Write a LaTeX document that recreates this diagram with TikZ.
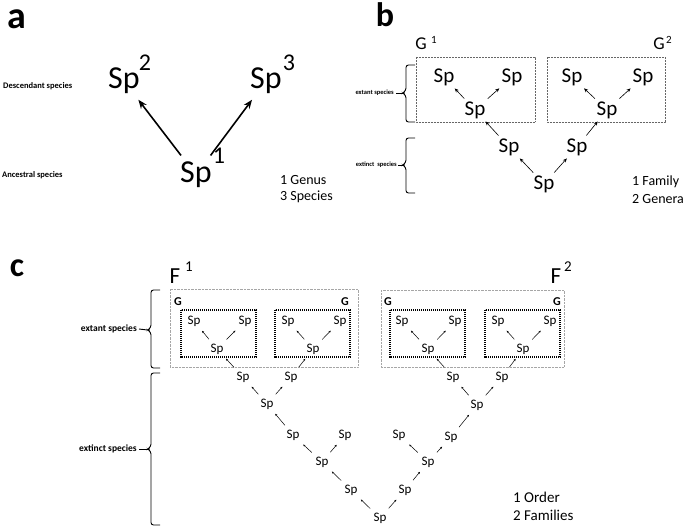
\documentclass[tikz,border=0pt]{standalone}
\usepackage{fontspec}
\setmainfont{Carlito}
\usetikzlibrary{arrows.meta}
\newcommand{\mybrk}[5]{%
  \draw[brk] (#2+9,#3) -- (#2,#3) -- (#2,#5-2.5) -- (#2-3.5,#5) -- (#2,#5+2.5) -- (#2,#4) -- (#2+9,#4);
  \coordinate (#1) at (#2-3.5,#5);}
\begin{document}
\begin{tikzpicture}[x=1pt,y=-1pt,
  fs/.style={font=\fontsize{#1}{#1}\selectfont},
  bfs/.style={font=\bfseries\fontsize{#1}{#1}\selectfont},
  spA/.style={fs=32, inner sep=4pt},
  supA/.style={fs=24, inner sep=0pt},
  spB/.style={fs=21, inner sep=2pt},
  spC/.style={fs=13, inner sep=2pt},
  arrA/.style={line width=1.6pt, -{Stealth[length=9pt,width=7pt]}, shorten <=3pt, shorten >=2pt},
  arrB/.style={line width=0.6pt, -{Stealth[length=4pt,width=3.5pt]}, shorten <=1pt, shorten >=1pt},
  arrC/.style={line width=0.5pt, -{Stealth[length=2.2pt,width=2pt]}, shorten <=3pt, shorten >=3pt},
  boxB/.style={draw=black!60, line width=0.7pt, dash pattern=on 0.6pt off 0.9pt},
  boxCo/.style={draw=black!35, line width=0.55pt, dash pattern=on 0.5pt off 0.9pt},
  boxCi/.style={draw=black, line width=1.2pt, dash pattern=on 1.1pt off 0.9pt},
  brk/.style={draw=black, line width=0.9pt, rounded corners=2.5pt},
  lead/.style={draw=black, line width=0.9pt},
]
\useasboundingbox (0,0) rectangle (685,527);
% ---------------- panel a
\node[bfs=38, inner sep=0] (la) at (17,19) {a};
\node[bfs=8.5, inner sep=0, anchor=west] (desc) at (3,86) {Descendant species};
\node[bfs=8.5, inner sep=0, anchor=west] (anc) at (2,175) {Ancestral species};
\node[spA] (a1) at (196,175) {Sp};
\node[supA] (a1s) at (219,156) {1};
\node[spA] (a2) at (124,81) {Sp};
\node[supA] (a2s) at (145,63) {2};
\node[spA] (a3) at (266,81) {Sp};
\node[supA] (a3s) at (289,63) {3};
\draw[arrA] (a1) -- (a2);
\draw[arrA] (a1) -- (a3);
\node[fs=14, inner sep=0, anchor=west] (gen) at (280,180) {1 Genus};
\node[fs=14, inner sep=0, anchor=west] (spc) at (280,197) {3 Species};
% ---------------- panel b
\node[bfs=34, inner sep=0] (lb) at (385,15) {b};
\node[fs=18, inner sep=0] (g1) at (421,44) {G};
\node[fs=11, inner sep=0] (g1s) at (434,40) {1};
\node[fs=18, inner sep=0] (g2) at (659,44) {G};
\node[fs=11, inner sep=0] (g2s) at (669,40) {2};
\draw[boxB] (416,57) rectangle (535,122);
\draw[boxB] (547,57) rectangle (665,122);
\node[spB] (b1l) at (444,77) {Sp};
\node[spB] (b1r) at (512,77) {Sp};
\node[spB] (b1b) at (475,110) {Sp};
\node[spB] (b2l) at (572,77) {Sp};
\node[spB] (b2r) at (643,77) {Sp};
\node[spB] (b2b) at (607,110) {Sp};
\node[spB] (bel) at (509,147) {Sp};
\node[spB] (ber) at (577,147) {Sp};
\node[spB] (bro) at (544,184) {Sp};
\draw[arrB] (b1b) -- (b1l);
\draw[arrB] (b1b) -- (b1r);
\draw[arrB] (b2b) -- (b2l);
\draw[arrB] (b2b) -- (b2r);
\draw[arrB] (bel) -- (b1b);
\draw[arrB] (ber) -- (b2b);
\draw[arrB] (bro) -- (bel);
\draw[arrB] (bro) -- (ber);
\node[bfs=6.5, inner sep=0, anchor=east] (bext) at (394,93) {extant species};
\node[bfs=6.5, inner sep=0, anchor=east] (binc) at (397,165) {extinct\ \ species};
\mybrk{bt1}{406}{65}{122}{93}
\mybrk{bt2}{406}{138}{193}{165}
\draw[lead] ([xshift=2pt]bext.east) -- (bt1);
\draw[lead] ([xshift=1pt]binc.east) -- (bt2);
\node[fs=14, inner sep=0, anchor=west] (fam) at (632,182) {1 Family};
\node[fs=14, inner sep=0, anchor=west] (gna) at (632,199) {2 Genera};
% ---------------- panel c
\node[bfs=34, inner sep=0] (lc) at (17,268) {c};
\node[fs=23, inner sep=0] (f1) at (175,276) {F};
\node[fs=15, inner sep=0] (f1s) at (189,267) {1};
\node[fs=23, inner sep=0] (f2) at (556,276) {F};
\node[fs=15, inner sep=0] (f2s) at (568,267) {2};
\draw[boxCo] (170,289) rectangle (358,367);
\draw[boxCo] (381,290) rectangle (564,367);
\node[bfs=12, inner sep=0] (cg1) at (178,302) {G};
\node[bfs=12, inner sep=0] (cg2) at (345,302) {G};
\node[bfs=12, inner sep=0] (cg3) at (388,302) {G};
\node[bfs=12, inner sep=0] (cg4) at (557,302) {G};
\draw[boxCi] (181,310) rectangle (256,357);
\draw[boxCi] (275,310) rectangle (350,357);
\draw[boxCi] (390,310) rectangle (465,357);
\draw[boxCi] (485,310) rectangle (560,357);
% F1 genera
\node[spC] (p1l) at (194,321) {Sp};
\node[spC] (p1r) at (245,321) {Sp};
\node[spC] (p1b) at (217,349) {Sp};
\node[spC] (p2l) at (288,321) {Sp};
\node[spC] (p2r) at (340,321) {Sp};
\node[spC] (p2b) at (313,349) {Sp};
% F2 genera
\node[spC] (q1l) at (402,321) {Sp};
\node[spC] (q1r) at (455,321) {Sp};
\node[spC] (q1b) at (428,349) {Sp};
\node[spC] (q2l) at (498,321) {Sp};
\node[spC] (q2r) at (550,321) {Sp};
\node[spC] (q2b) at (523,349) {Sp};
% extinct F1
\node[spC] (e1) at (243,377) {Sp};
\node[spC] (e2) at (291,377) {Sp};
\node[spC] (e3) at (267,404) {Sp};
\node[spC] (e4) at (293,435) {Sp};
\node[spC] (e5) at (345,435) {Sp};
\node[spC] (e6) at (322,462) {Sp};
\node[spC] (e7) at (351,490) {Sp};
% extinct F2
\node[spC] (h1) at (453,377) {Sp};
\node[spC] (h2) at (502,377) {Sp};
\node[spC] (h3) at (477,405) {Sp};
\node[spC] (h4) at (399,435) {Sp};
\node[spC] (h5) at (451,437) {Sp};
\node[spC] (h6) at (428,462) {Sp};
\node[spC] (h7) at (405,490) {Sp};
\node[spC] (root) at (380,518) {Sp};
% connectors
\draw[arrC] (p1b) -- (p1l);
\draw[arrC] (p1b) -- (p1r);
\draw[arrC] (p2b) -- (p2l);
\draw[arrC] (p2b) -- (p2r);
\draw[arrC] (q1b) -- (q1l);
\draw[arrC] (q1b) -- (q1r);
\draw[arrC] (q2b) -- (q2l);
\draw[arrC] (q2b) -- (q2r);
\draw[arrC] (e1) -- (p1b);
\draw[arrC] (e2) -- (p2b);
\draw[arrC] (e3) -- (e1);
\draw[arrC] (e3) -- (e2);
\draw[arrC] (e4) -- (e3);
\draw[arrC] (e6) -- (e4);
\draw[arrC] (e6) -- (e5);
\draw[arrC] (e7) -- (e6);
\draw[arrC] (root) -- (e7);
\draw[arrC] (h1) -- (q1b);
\draw[arrC] (h2) -- (q2b);
\draw[arrC] (h3) -- (h1);
\draw[arrC] (h3) -- (h2);
\draw[arrC] (h5) -- (h3);
\draw[arrC] (h6) -- (h4);
\draw[arrC] (h6) -- (h5);
\draw[arrC] (h7) -- (h6);
\draw[arrC] (root) -- (h7);
% labels and braces
\node[bfs=9.5, inner sep=0, anchor=east] (cext) at (137,329) {extant species};
\node[bfs=9.5, inner sep=0, anchor=east] (cinc) at (137,449) {extinct species};
\mybrk{ct1}{151}{290}{368}{330}
\mybrk{ct2}{151}{373}{525}{449}
\draw[lead] ([xshift=2pt]cext.east) -- (ct1);
\draw[lead] ([xshift=2pt]cinc.east) -- (ct2);
\node[fs=15, inner sep=0, anchor=west] (ord) at (513,497) {1 Order};
\node[fs=15, inner sep=0, anchor=west] (fms) at (513,515) {2 Families};
\end{tikzpicture}
\end{document}
